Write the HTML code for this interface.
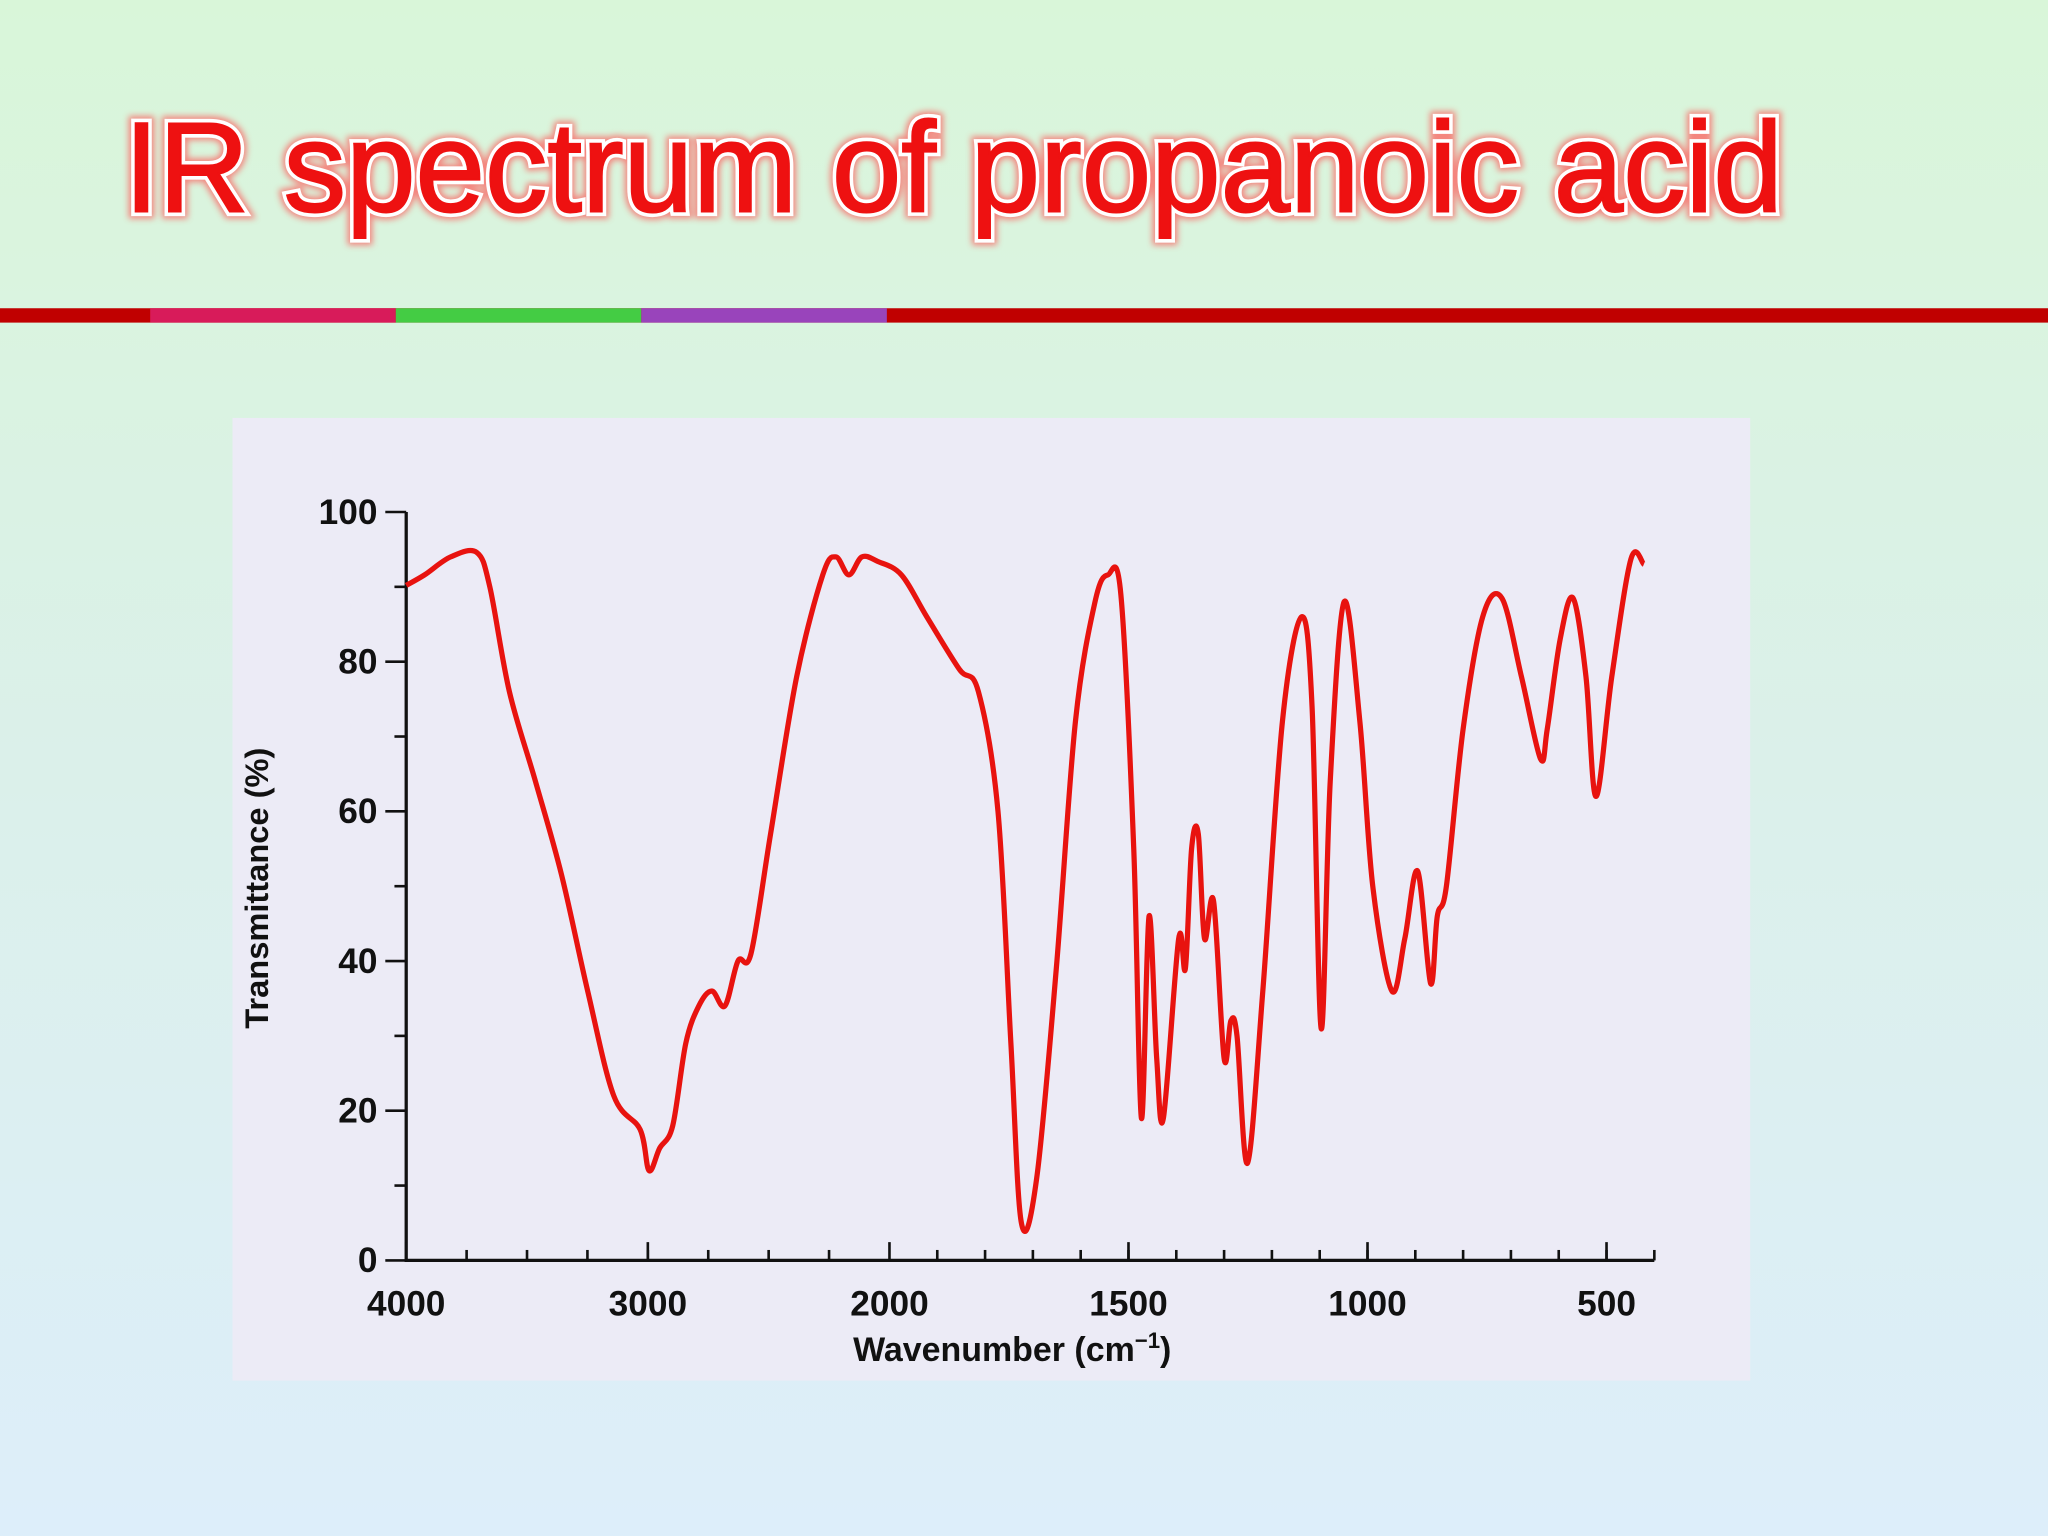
<!DOCTYPE html>
<html><head><meta charset="utf-8"><style>
html,body{margin:0;padding:0;width:2048px;height:1536px;overflow:hidden}
svg{display:block}
</style></head><body>
<svg width="2048" height="1536" viewBox="0 0 1568 1176" xmlns="http://www.w3.org/2000/svg">
<defs>
<linearGradient id="bg" x1="0" y1="0" x2="0" y2="1">
<stop offset="0" stop-color="#d9f6d9"/><stop offset="0.5" stop-color="#dbf0ea"/><stop offset="1" stop-color="#ddeefa"/>
</linearGradient>
<filter id="glow"><feGaussianBlur stdDeviation="2.5"/></filter>
</defs>
<rect width="1568" height="1176" fill="url(#bg)"/>
<g font-family="Liberation Sans, Arial, sans-serif" font-size="98">
<text x="95" y="162" textLength="1270" lengthAdjust="spacingAndGlyphs" fill="none" stroke="#f55" stroke-width="11" filter="url(#glow)" opacity="0.7">IR spectrum of propanoic acid</text>
<text x="95" y="162" textLength="1270" lengthAdjust="spacingAndGlyphs" fill="none" stroke="#fff" stroke-width="7">IR spectrum of propanoic acid</text>
<text x="95" y="162" textLength="1270" lengthAdjust="spacingAndGlyphs" fill="#ee1111" stroke="#ee1111" stroke-width="1.5">IR spectrum of propanoic acid</text>
</g>
<g>
<rect x="0" y="236" width="1568" height="11" fill="#c00000"/>
<rect x="115" y="236" width="188" height="11" fill="#d81b5a"/>
<rect x="303" y="236" width="188" height="11" fill="#44cc44"/>
<rect x="491" y="236" width="188" height="11" fill="#9944bb"/>
</g>
<rect x="178" y="320" width="1162" height="737" fill="#ecebf6"/>
<g id="chart"></g>
</svg>
<script>
const wavenumbers=[4000,3924,3816,3708,3654,3573,3465,3357,3249,3141,3032,2995,2951,2897,2843,2789,2735,2681,2627,2573,2492,2384,2276,2222,2168,2114,2049,1975,1922,1854,1814,1773,1746,1724,1692,1651,1611,1570,1543,1516,1489,1473,1457,1441,1427,1395,1381,1368,1354,1341,1322,1300,1286,1273,1251,1219,1178,1138,1116,1097,1078,1049,1016,989,949,922,895,868,854,835,800,759,719,678,638,624,597,570,543,522,489,449,422];
const transmittance=[90.2,91.6,94,94.6,90,76,64,51.5,36,22,17.5,12,15,18,29,34,36,34,40,41,57,78,91.6,94,91.6,94,93.4,91.6,86,79,76,60,29,5,11,39,72,88,91.6,89,55,19,46,27,19,43,39,55,57,43,48,27,32,30,13,36,72,86,74,31,64,88,72,50,36,43,52,37,46,50,71,86,88.5,78,67,71,83,88.5,78,62,78,93.7,93];
const yTicks=[0,20,40,60,80,100];
const xTicks=[4000,3000,2000,1500,1000,500];
const NS="http://www.w3.org/2000/svg";
const g=document.getElementById('chart');
const X0=311,Y0=965,Y100=392;
function xs(w){return w>=2000? X0+(4000-w)*0.185 : 681+(2000-w)*0.366;}
function ys(t){return Y0-(t/100)*(Y0-Y100);}
function mk(tag,attrs){const e=document.createElementNS(NS,tag);for(const k in attrs)e.setAttribute(k,attrs[k]);g.appendChild(e);return e;}
const ax=mk('path',{d:`M${X0} ${ys(100)} V${Y0} H${xs(400)}`,stroke:'#111',fill:'none','stroke-width':2.5});


for(let t=0;t<=100;t+=10){const major=t%20===0;const tk=mk('line',{x1:X0-(major?16:9),x2:X0,y1:ys(t),y2:ys(t),stroke:'#111','stroke-width':2});

}
yTicks.forEach(t=>{const tx=mk('text',{x:X0-22,y:ys(t)+9,'text-anchor':'end','font-family':'Liberation Sans, sans-serif','font-size':27,'font-weight':'bold',fill:'#111'});tx.textContent=t;

});
const minors=[];for(let w=3750;w>2000;w-=250)minors.push(w);for(let w=1900;w>=400;w-=100)minors.push(w);
minors.forEach(w=>{const tk=mk('line',{x1:xs(w),x2:xs(w),y1:Y0,y2:Y0-8,stroke:'#111','stroke-width':2});

});
xTicks.forEach(w=>{const tk=mk('line',{x1:xs(w),x2:xs(w),y1:Y0,y2:Y0-14,stroke:'#111','stroke-width':2});


const tx=mk('text',{x:xs(w),y:Y0+42,'text-anchor':'middle','font-family':'Liberation Sans, sans-serif','font-size':27,'font-weight':'bold',fill:'#111'});tx.textContent=w;

});
const yl=mk('text',{x:0,y:0,transform:'translate(205,680) rotate(-90)','text-anchor':'middle','font-family':'Liberation Sans, sans-serif','font-size':25,'font-weight':'bold',fill:'#111'});yl.textContent='Transmittance (%)';


const xl=mk('text',{x:775,y:1042,'text-anchor':'middle','font-family':'Liberation Sans, sans-serif','font-size':26,'font-weight':'bold',fill:'#111'});xl.innerHTML='Wavenumber (cm<tspan dy="-10" font-size="17">−1</tspan><tspan dy="10">)</tspan>';


const pts=wavenumbers.map((w,i)=>[xs(w),ys(transmittance[i])]);
let d=`M${pts[0][0]} ${pts[0][1]}`;
for(let i=0;i<pts.length-1;i++){const p0=pts[Math.max(0,i-1)],p1=pts[i],p2=pts[i+1],p3=pts[Math.min(pts.length-1,i+2)];
const c1=[p1[0]+(p2[0]-p0[0])/6,p1[1]+(p2[1]-p0[1])/6],c2=[p2[0]-(p3[0]-p1[0])/6,p2[1]-(p3[1]-p1[1])/6];
d+=` C${c1[0]} ${c1[1]} ${c2[0]} ${c2[1]} ${p2[0]} ${p2[1]}`;}
const line=mk('path',{d:d,stroke:'#e8130f',fill:'none','stroke-width':4,'stroke-linejoin':'round'});


</script>
</body></html>
